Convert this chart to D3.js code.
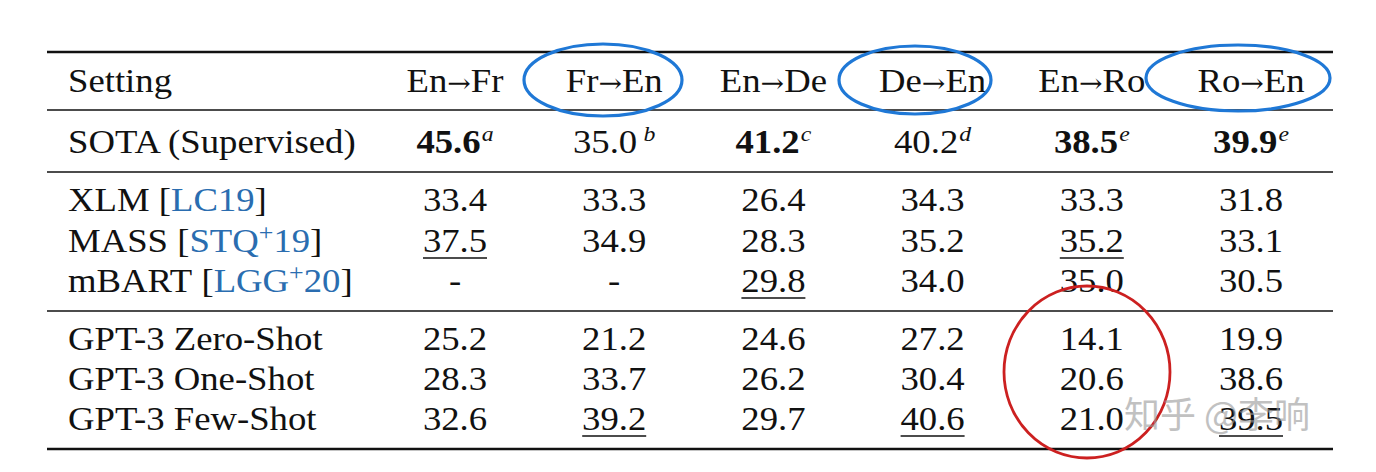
<!DOCTYPE html>
<html><head><meta charset="utf-8">
<script src="https://cdn.jsdelivr.net/npm/d3@7"></script>
<style>body{margin:0;background:#fff}</style></head>
<body><svg id="c" width="1376" height="472"></svg>
<script>
const columns = ["En→Fr","Fr→En","En→De","De→En","En→Ro","Ro→En"];
const sotaValues = ["45.6","35.0","41.2","40.2","38.5","39.9"];
const sotaMarks = ["a","b","c","d","e","e"];
const sotaBold = [true,false,true,false,true,true];
const rowNames = ["XLM","MASS","mBART","GPT-3 Zero-Shot","GPT-3 One-Shot","GPT-3 Few-Shot"];
const rowCites = ["LC19","STQ+19","LGG+20",null,null,null];
const xlm = ["33.4","33.3","26.4","34.3","33.3","31.8"];
const mass = ["37.5","34.9","28.3","35.2","35.2","33.1"];
const mbart = ["-","-","29.8","34.0","35.0","30.5"];
const zeroShot = ["25.2","21.2","24.6","27.2","14.1","19.9"];
const oneShot = ["28.3","33.7","26.2","30.4","20.6","38.6"];
const fewShot = ["32.6","39.2","29.7","40.6","21.0","39.5"];
const underlined = [[1,0],[1,4],[2,2],[5,1],[5,3],[5,5]];
const bodyRows = [xlm,mass,mbart,zeroShot,oneShot,fewShot];

const svg = d3.select("#c");
const F = "'Liberation Serif','Times New Roman',serif";
const SX = 1.08, FS = 34;
const x = d3.scalePoint().domain(columns).range([455,1251]);
const yBody = d3.scaleOrdinal().domain(d3.range(6)).range([211,252,292,350,390,430]);
const g = svg.append("g").attr("font-family",F).attr("font-size",FS).attr("fill","#111");
function txt(px,py,anchor){
  return g.append("g").attr("transform",`translate(${px},${py}) scale(${SX},1)`)
    .append("text").attr("text-anchor",anchor||"start");
}

[[52,2.5],[110,1.5],[172,1.5],[311,1.5],[449,2.5]].forEach(([y,w])=>
  svg.append("line").attr("x1",47).attr("x2",1333).attr("y1",y).attr("y2",y).attr("stroke","#111").attr("stroke-width",w));

txt(68,92).text("Setting");
columns.forEach(c=>{
  const [a,b]=c.split("→");
  const t=txt(x(c),92,"middle");
  t.append("tspan").text(a);
  t.append("tspan").attr("font-family","'DejaVu Serif',serif").attr("font-size",26).text("→");
  t.append("tspan").text(b);
});

txt(68,153).text("SOTA (Supervised)");
columns.forEach((c,i)=>{
  const t=txt(x(c),153,"middle");
  t.append("tspan").attr("font-weight",sotaBold[i]?"bold":"normal").text(sotaValues[i]);
  t.append("tspan").attr("font-style","italic").attr("font-size",22).attr("dy",-12).attr("dx",i==1?6:1).text(sotaMarks[i]);
});

rowNames.forEach((n,r)=>{
  const t=txt(68,yBody(r));
  t.append("tspan").text(n);
  const cite=rowCites[r];
  if(cite){
    t.append("tspan").text(" [");
    if(cite.includes("+")){
      const [a,b]=cite.split("+");
      t.append("tspan").attr("fill","#2a6db0").text(a);
      t.append("tspan").attr("fill","#2a6db0").attr("font-size",24).attr("dy",-12).text("+");
      t.append("tspan").attr("fill","#2a6db0").attr("dy",12).text(b);
    } else t.append("tspan").attr("fill","#2a6db0").text(cite);
    t.append("tspan").text("]");
  }
  bodyRows[r].forEach((v,i)=>{ txt(x(columns[i]),yBody(r),"middle").text(v); });
});
underlined.forEach(([r,i])=>{
  svg.append("line").attr("x1",x(columns[i])-32).attr("x2",x(columns[i])+32)
    .attr("y1",yBody(r)+6).attr("y2",yBody(r)+6).attr("stroke","#111").attr("stroke-width",1.5);
});

const ann=svg.append("g").attr("fill","none").attr("stroke-width",3.2);
[[603,80,79,36],[915,80,76,34],[1238,78,92,33]].forEach(([cx,cy,rx,ry])=>
  ann.append("ellipse").attr("cx",cx).attr("cy",cy).attr("rx",rx).attr("ry",ry).attr("stroke","#1f78d6"));
ann.append("ellipse").attr("cx",1087).attr("cy",372).attr("rx",83).attr("ry",86).attr("stroke","#cc2020").attr("stroke-width",2.8);

svg.append("text").attr("x",1124).attr("y",428).attr("font-family","'Noto Sans CJK SC',sans-serif")
  .attr("font-size",36).attr("fill","#999").attr("opacity",0.6).text("知乎 @李响");
</script></body></html>
